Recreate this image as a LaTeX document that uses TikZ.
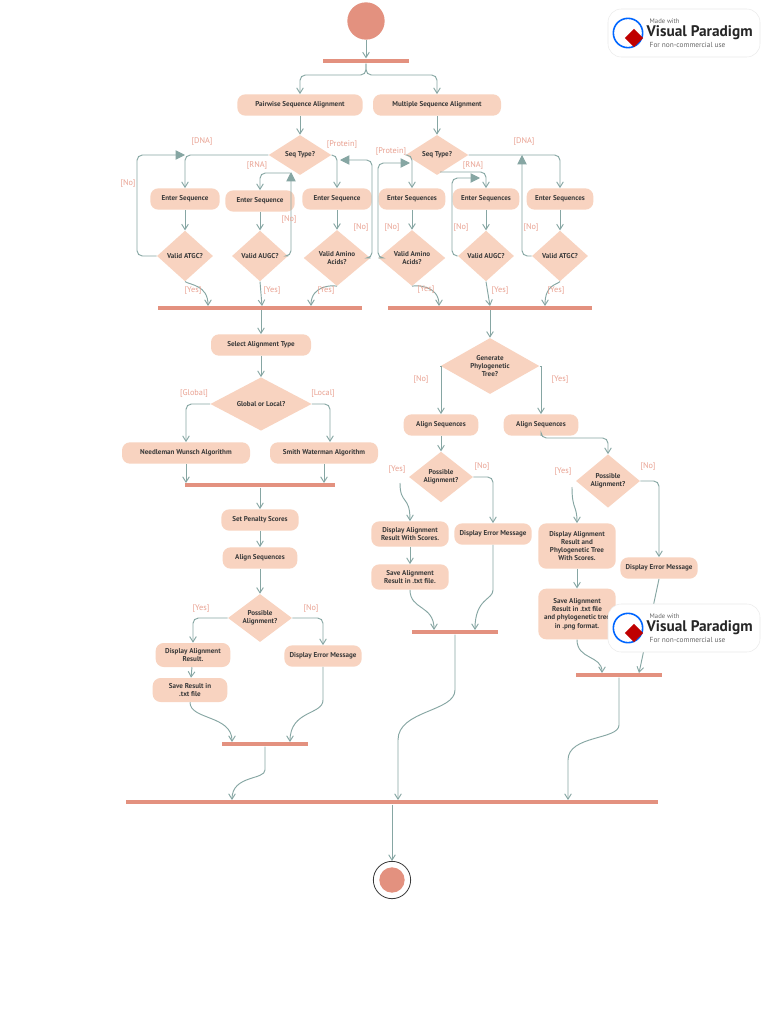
\documentclass[tikz,border=0pt]{standalone}
\usepackage{fontspec}
\setmainfont{PT Sans}
\usetikzlibrary{shapes.geometric,arrows.meta}
\definecolor{pch}{HTML}{F8D3C0}
\definecolor{ln}{HTML}{86A6A3}
\definecolor{barc}{HTML}{E3917F}
\definecolor{lab}{HTML}{E9A191}
\definecolor{txt}{HTML}{3A3A3A}
\tikzset{
 act/.style={rounded corners=6pt,fill=pch,text=txt,font=\bfseries\fontsize{5.3}{6.2}\selectfont,align=center,minimum height=16pt,inner xsep=2pt},
 dec/.style={diamond,fill=pch,text=txt,font=\bfseries\fontsize{5.3}{6.2}\selectfont,align=center,inner sep=-1pt},
 bar/.style={fill=barc,minimum height=3.5pt,inner sep=0pt},
 lbl/.style={text=lab,font=\fontsize{6.2}{7}\selectfont},
 fl/.style={draw=ln,line width=0.7pt,-{Straight Barb[length=4pt,width=5pt]}},
 lp/.style={draw=ln,line width=0.7pt,rounded corners=4pt,-{Triangle[length=7pt,width=7pt]}},
 pl/.style={draw=ln,line width=0.7pt},
}
\begin{document}
\begin{tikzpicture}[x=0.75pt,y=-0.75pt]
\useasboundingbox[fill=white] (0,0) rectangle (768,1024);
% start
\node[circle,fill=barc,minimum size=28pt,inner sep=0pt] (start) at (366,21) {};
\node[bar,minimum width=64pt] (f1) at (366,61) {};
\node[act,minimum width=94pt] (pw) at (300,105) {Pairwise Sequence Alignment};
\node[act,minimum width=96pt] (ms) at (437,105) {Multiple Sequence Alignment};
\draw[fl] (start) -- (f1);
\draw[fl,rounded corners=4pt] (f1.south) -- (366,75) -| (pw.north);
\draw[fl,rounded corners=4pt] (f1.south) -- (366,75) -| (ms.north);
% left seq type
\node[dec,minimum width=47pt,minimum height=30pt] (st1) at (300,155) {Seq Type?};
\draw[fl] (pw) -- (st1);
\node[act,minimum width=52pt] (e1) at (185,199) {Enter Sequence};
\node[act,minimum width=52pt] (e2) at (260,201) {Enter Sequence};
\node[act,minimum width=52pt] (e3) at (337,199) {Enter Sequence};
\node[dec,minimum width=42pt,minimum height=38pt] (v1) at (185,256) {Valid ATGC?};
\node[dec,minimum width=42pt,minimum height=38pt] (v2) at (260,256) {Valid AUGC?};
\node[dec,minimum width=50pt,minimum height=42pt] (v3) at (337,258) {Valid Amino\\Acids?};
\draw[fl,rounded corners=4pt] (st1.west) -| (e1.north);
\draw[fl,rounded corners=4pt] (290,173) -| (e2.north);
\draw[fl,rounded corners=4pt] (st1.east) -| (e3.north);
\foreach \a/\b in {e1/v1,e2/v2,e3/v3} \draw[fl] (\a) -- (\b);
\draw[lp] (v1.west) -| (137,155) -- (185,155);
\draw[lp] (v2.east) -| (291,172);
\draw[lp] (v3.east) -| (372,160) -- (340,160);
\node[bar,minimum width=153pt] (b2) at (260,308) {};
\draw[fl] (v1.south) .. controls (190,285) and (208,285) .. (208,306);
\draw[fl] (v2.south) -- (262,306);
\draw[fl] (v3.south) .. controls (333,285) and (311,285) .. (311,306);
\node[lbl] at (202,142) {[DNA]}; \node[lbl] at (257,166) {[RNA]}; \node[lbl] at (342,145) {[Protein]};
\node[lbl] at (128,184) {[No]}; \node[lbl] at (289,220) {[No]}; \node[lbl] at (361,228) {[No]};
\node[lbl] at (193,291) {[Yes]}; \node[lbl] at (272,291) {[Yes]}; \node[lbl] at (326,291) {[Yes]};
% right seq type
\node[dec,minimum width=47pt,minimum height=30pt] (st2) at (437,155) {Seq Type?};
\draw[fl] (ms) -- (st2);
\node[act,minimum width=50pt] (r1) at (412,199) {Enter Sequences};
\node[act,minimum width=50pt] (r2) at (486,199) {Enter Sequences};
\node[act,minimum width=50pt] (r3) at (560,199) {Enter Sequences};
\node[dec,minimum width=50pt,minimum height=42pt] (w1) at (412,258) {Valid Amino\\Acids?};
\node[dec,minimum width=42pt,minimum height=38pt] (w2) at (486,256) {Valid AUGC?};
\node[dec,minimum width=42pt,minimum height=38pt] (w3) at (560,256) {Valid ATGC?};
\draw[fl,rounded corners=4pt] (st2.west) -| (r1.north);
\draw[fl,rounded corners=4pt] (440,172) -| (r2.north);
\draw[fl,rounded corners=4pt] (st2.east) -| (r3.north);
\foreach \a/\b in {r1/w1,r2/w2,r3/w3} \draw[fl] (\a) -- (\b);
\draw[lp] (w1.west) -| (378,163) -- (410,163);
\draw[lp] (w2.west) -| (452,178) -- (480,178);
\draw[lp] (w3.west) -| (522,155);
\node[bar,minimum width=153pt] (b5) at (490,308) {};
\draw[fl] (w1.south) .. controls (416,285) and (439,285) .. (439,306);
\draw[fl] (w2.south) -- (490,306);
\draw[fl] (w3.south) .. controls (556,285) and (545,285) .. (545,306);
\node[lbl] at (391,152) {[Protein]}; \node[lbl] at (473,166) {[RNA]}; \node[lbl] at (524,142) {[DNA]};
\node[lbl] at (392,228) {[No]}; \node[lbl] at (461,228) {[No]}; \node[lbl] at (531,228) {[No]};
\node[lbl] at (426,290) {[Yes]}; \node[lbl] at (500,291) {[Yes]}; \node[lbl] at (556,291) {[Yes]};
% left lower
\node[act,minimum width=75pt] (sat) at (261,345) {Select Alignment Type};
\draw[fl] (261,310) -- (sat);
\node[dec,minimum width=76pt,minimum height=40pt] (gl) at (261,404) {Global or Local?};
\draw[fl] (sat) -- (gl);
\node[act,minimum width=96pt] (nw) at (186,453) {Needleman Wunsch Algorithm};
\node[act,minimum width=81pt] (sw) at (324,453) {Smith Waterman Algorithm};
\draw[fl,rounded corners=4pt] (gl.west) -- (186,404) -- (nw.north);
\draw[fl,rounded corners=4pt] (gl.east) -- (330,404) -- (330,442);
\node[lbl] at (194,394) {[Global]}; \node[lbl] at (323,394) {[Local]};
\node[bar,minimum width=113pt] (b3) at (260,485) {};
\draw[fl] (nw.south) -- (186,483);
\draw[fl] (sw.south) -- (324,483);
\node[act,minimum width=58pt] (sp) at (260,520) {Set Penalty Scores};
\node[act,minimum width=56pt] (as1) at (260,558) {Align Sequences};
\node[dec,minimum width=48pt,minimum height=36pt] (pa1) at (260,618) {Possible\\Alignment?};
\draw[fl] (b3) -- (sp); \draw[fl] (sp) -- (as1); \draw[fl] (as1) -- (pa1);
\node[act,minimum width=56pt,minimum height=18pt] (da1) at (193,655) {Display Alignment\\Result.};
\node[act,minimum width=58pt] (de1) at (323,656) {Display Error Message};
\node[act,minimum width=56pt,minimum height=18pt] (sr1) at (190,690) {Save Result in\\.txt file};
\draw[fl,rounded corners=4pt] (pa1.west) -| (da1.north);
\draw[fl,rounded corners=4pt] (pa1.east) -| (de1.north);
\draw[fl] (da1) -- (sr1);
\node[lbl] at (201,609) {[Yes]}; \node[lbl] at (311,609) {[No]};
\node[bar,minimum width=64pt] (b4) at (265,744) {};
\draw[fl] (sr1.south) .. controls (190,720) and (232,715) .. (232,742);
\draw[fl] (de1.south) -- (323,700) .. controls (323,715) and (290,710) .. (290,742);
\node[bar,minimum width=399pt] (fin) at (392,802) {};
\draw[fl] (b4.south) -- (265,770) .. controls (265,780) and (232,775) .. (232,800);
% right lower
\node[dec,minimum width=74pt,minimum height=42pt] (gp) at (490,366) {Generate\\Phylogenetic\\Tree?};
\draw[fl] (490,310) -- (gp);
\node[act,minimum width=56pt] (as2) at (441,425) {Align Sequences};
\node[act,minimum width=56pt] (as3) at (541,425) {Align Sequences};
\draw[fl] (gp.west) -- (441,366) -- (as2.north);
\draw[fl] (gp.east) -- (541,366) -- (as3.north);
\node[lbl] at (421,380) {[No]}; \node[lbl] at (560,380) {[Yes]};
\node[dec,minimum width=48pt,minimum height=38pt] (pa2) at (441,477) {Possible\\Alignment?};
\draw[fl] (as2) -- (pa2);
\node[act,minimum width=58pt,minimum height=19pt] (da2) at (410,534) {Display Alignment\\Result With Scores.};
\node[act,minimum width=58pt] (de2) at (493,534) {Display Error Message};
\node[act,minimum width=58pt,minimum height=19pt] (sr2) at (410,577) {Save Alignment\\Result in .txt file.};
\draw[fl] (400,483) .. controls (400,505) and (410,495) .. (da2.north);
\draw[fl,rounded corners=4pt] (pa2.east) -| (de2.north);
\draw[fl] (da2) -- (sr2);
\node[lbl] at (397,470) {[Yes]}; \node[lbl] at (482,467) {[No]};
\node[bar,minimum width=64pt] (b6) at (455,632) {};
\draw[fl] (sr2.south) .. controls (410,610) and (434,605) .. (434,630);
\draw[fl] (de2.south) -- (493,590) .. controls (493,600) and (475,598) .. (475,630);
\draw[fl] (b6.south) -- (455,690) .. controls (455,712) and (398,710) .. (398,740) -- (398,800);
\node[dec,minimum width=48pt,minimum height=40pt] (pa3) at (608,481) {Possible\\Alignment?};
\draw[fl,rounded corners=4pt] (as3.south) -- (541,438) -- (608,438) -- (pa3.north);
\node[act,minimum width=58pt,minimum height=34pt] (da3) at (577,546) {Display Alignment\\Result and\\Phylogenetic Tree\\With Scores.};
\node[act,minimum width=58pt,minimum height=38pt] (sr3) at (577,614) {Save Alignment\\Result in .txt file\\and phylogenetic tree\\in .png format.};
\node[act,minimum width=58pt] (de3) at (659,568) {Display Error Message};
\draw[fl] (572,487) .. controls (572,510) and (577,505) .. (da3.north);
\draw[fl,rounded corners=4pt] (pa3.east) -| (de3.north);
\draw[fl] (da3) -- (sr3);
\node[lbl] at (563,472) {[Yes]}; \node[lbl] at (648,467) {[No]};
\node[bar,minimum width=64pt] (b7) at (619,675) {};
\draw[fl] (sr3.south) .. controls (577,660) and (602,655) .. (602,673);
\draw[fl] (de3.south) -- (639,673);
\draw[fl] (b7.south) -- (619,725) .. controls (619,740) and (568,735) .. (568,760) -- (568,800);
% end
\node[circle,draw=txt,line width=0.6pt,fill=white,minimum size=28pt,inner sep=0pt] (endo) at (392,880) {};
\node[circle,fill=barc,minimum size=19pt,inner sep=0pt] at (endo) {};
\draw[fl] (fin) -- (endo);
% watermarks
\foreach \y/\nm in {33/wa,628/wb}{
 \node[rounded corners=10pt,fill=white,draw=black!8,minimum width=114pt,minimum height=36pt] (\nm) at (684,\y) {};
 \node[circle,fill=white,draw=blue!60!cyan,line width=1.2pt,minimum size=22pt] at (628,\y) {};
 \node[diamond,fill=red!75!black,minimum size=14pt,inner sep=0pt] at (634,\y+5) {};
 \node[anchor=west,font=\fontsize{5}{5}\selectfont,text=black!60] at (645,\y-12) {Made with};
 \node[anchor=west,font=\bfseries\fontsize{11.5}{12}\selectfont,text=black!85] at (642,\y) {Visual Paradigm};
 \node[anchor=west,font=\fontsize{5.5}{5.5}\selectfont,text=black!60] at (645,\y+12) {For non-commercial use};
}
\end{tikzpicture}
\end{document}
